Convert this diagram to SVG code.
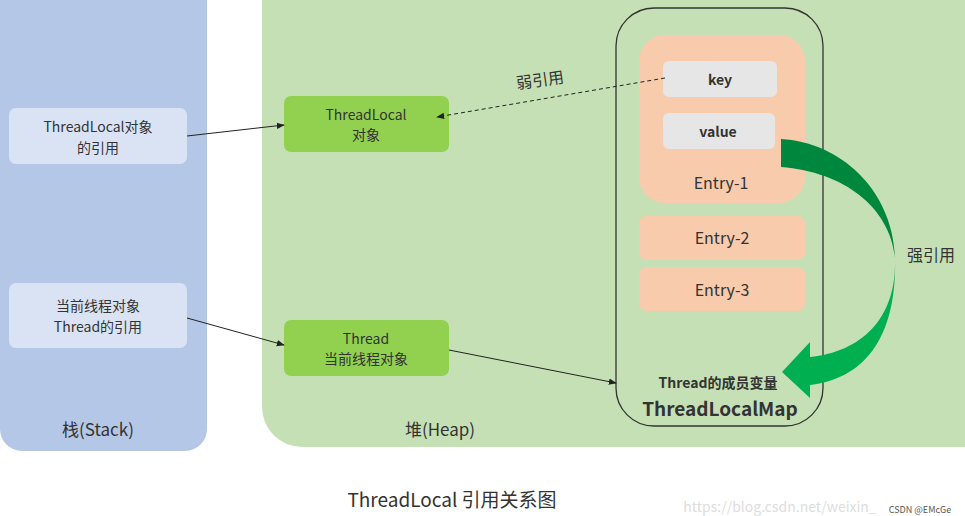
<svg xmlns="http://www.w3.org/2000/svg" width="965" height="516" viewBox="0 0 965 516">
<style>
text{font-family:"Noto Sans CJK SC","Noto Sans",sans-serif;fill:#333;text-anchor:middle}
.sn{fill:#dae3f3}
.hn{fill:#92d050}
.en{fill:#f8cbad}
.kv{fill:#e7e6e6}
.c{stroke:#222;stroke-width:1;fill:none;marker-end:url(#a)}
</style>
<defs>
<marker id="a" viewBox="0 0 10 10" refX="9" refY="5" markerWidth="8" markerHeight="8" orient="auto"><path d="M0,1 L10,5 L0,9 z" fill="#222"/></marker>
</defs>
<rect width="965" height="516" fill="#fff"/>
<g id="stack"><rect x="0" y="-40" width="207" height="491" rx="22" fill="#b4c7e7"/><text x="98" y="436" font-size="17">栈(Stack)</text></g>
<g id="heap"><rect x="262" y="-40" width="740" height="487" rx="40" fill="#c5e0b4"/><text x="440" y="436" font-size="17">堆(Heap)</text></g>
<g id="s1"><rect class="sn" x="9" y="108" width="178" height="56" rx="7"/><text x="98" y="132" font-size="14">ThreadLocal对象</text><text x="98" y="153" font-size="14">的引用</text></g>
<g id="s2"><rect class="sn" x="9" y="283" width="178" height="65" rx="7"/><text x="98" y="311" font-size="14">当前线程对象</text><text x="98" y="332" font-size="14">Thread的引用</text></g>
<g id="tl"><rect class="hn" x="284" y="96" width="165" height="56" rx="7"/><text x="366" y="120" font-size="14">ThreadLocal</text><text x="366" y="140" font-size="14">对象</text></g>
<g id="th"><rect class="hn" x="284" y="320" width="165" height="56" rx="7"/><text x="366" y="344" font-size="14">Thread</text><text x="366" y="364" font-size="14">当前线程对象</text></g>
<g id="map"><rect x="616" y="8" width="207" height="418" rx="38" fill="none" stroke="#333" stroke-width="1.3"/>
<text x="718" y="388" font-size="14" font-weight="bold" fill="#111">Thread的成员变量</text>
<text x="720" y="416" font-size="19" font-weight="bold" fill="#111">ThreadLocalMap</text></g>
<g id="e1"><rect class="en" x="639" y="35" width="166" height="168" rx="26"/><text x="721" y="189" font-size="16">Entry-1</text></g>
<g id="key"><rect class="kv" x="663" y="61" width="114" height="36" rx="6"/><text x="720" y="85" font-size="14" font-weight="bold" fill="#222">key</text></g>
<g id="value"><rect class="kv" x="663" y="113" width="112" height="36" rx="6"/><text x="718" y="137" font-size="14" font-weight="bold" fill="#222">value</text></g>
<g id="e2"><rect class="en" x="639" y="216" width="166" height="44" rx="8"/><text x="722" y="244" font-size="16">Entry-2</text></g>
<g id="e3"><rect class="en" x="639" y="267" width="166" height="44" rx="8"/><text x="722" y="296" font-size="16">Entry-3</text></g>
<g id="connectors">
<path class="c" d="M187,136 L284,125"/>
<path class="c" d="M187,318 L284,345"/>
<path class="c" d="M449,350 L616,383"/>
<path class="c" d="M665,78 L437,117" stroke-dasharray="4,3"/>
<path d="M781,139 C840,142 893,190 895,258 C890,208 845,172 781,167 Z" fill="#00873e"/>
<path d="M895,258 C897,320 860,352 810,357 L810,342 L782,372 L810,398 L810,385 C870,378 897,330 895,258 Z" fill="#00b050"/>
<text x="540" y="86" font-size="16" transform="rotate(-8 540 80)">弱引用</text>
<text x="931" y="261" font-size="16">强引用</text>
</g>
<text x="452" y="507" font-size="19">ThreadLocal 引用关系图</text>
<text x="780" y="512" font-size="14" style="fill:#ddd">https://blog.csdn.net/weixin_</text>
<text x="920" y="513" font-size="9" style="fill:#555">CSDN @EMcGe</text>
</svg>
